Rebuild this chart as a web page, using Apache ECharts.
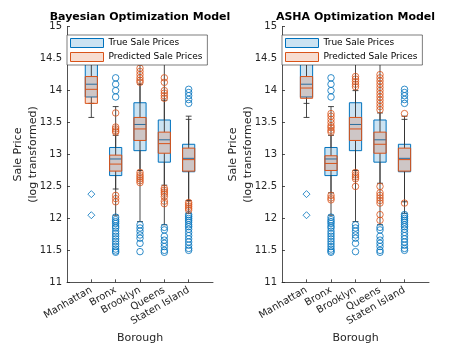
<!DOCTYPE html>
<html><head><meta charset="utf-8">
<script src="https://cdn.jsdelivr.net/npm/echarts@6/dist/echarts.min.js"></script>
<style>html,body{margin:0;padding:0;background:#fff}#c{width:474px;height:355px}</style>
</head><body><div id="c"></div>
<script>
const boroughs = ['Manhattan', 'Bronx', 'Brooklyn', 'Queens', 'Staten Island'];
const titles = ['Bayesian Optimization Model', 'ASHA Optimization Model'];
const seriesNames = ['True Sale Prices', 'Predicted Sale Prices'];
const yMin = 11, yMax = 15, yStep = 0.5;

// box statistics per borough: [lower whisker, Q1, median, Q3, upper whisker]
const trueStats = [
  [13.58, 13.90, 14.10, 14.65, 14.85],
  [12.05, 12.67, 12.93, 13.11, 13.75],
  [11.95, 13.06, 13.47, 13.81, 14.85],
  [11.90, 12.88, 13.23, 13.54, 14.50],
  [12.08, 12.73, 12.94, 13.16, 13.60]
];
const bayesPredStats = [
  [13.80, 13.80, 14.02, 14.22, 14.45],
  [12.46, 12.74, 12.85, 12.99, 13.30],
  [12.75, 13.22, 13.40, 13.58, 14.10],
  [12.52, 13.02, 13.17, 13.35, 13.85],
  [12.28, 12.74, 12.92, 13.10, 13.55]
];
const ashaPredStats = [
  [13.80, 13.88, 14.04, 14.22, 14.45],
  [12.40, 12.75, 12.86, 12.98, 13.30],
  [12.75, 13.22, 13.40, 13.58, 14.00],
  [12.55, 13.02, 13.16, 13.35, 13.65],
  [12.26, 12.74, 12.92, 13.10, 13.55]
];

// outliers per borough
const trueOutliers = [
  [12.38, 12.05],
  [14.20, 14.10, 14.00, 13.90, 12.02, 11.98, 11.95, 11.92, 11.88, 11.85, 11.80, 11.76, 11.72, 11.68, 11.64, 11.60, 11.56, 11.52, 11.49, 11.47],
  [11.90, 11.85, 11.80, 11.74, 11.69, 11.61, 11.48],
  [11.86, 11.82, 11.72, 11.66, 11.61, 11.56, 11.50, 11.47],
  [14.02, 13.97, 13.92, 13.86, 13.80, 12.06, 12.03, 12.00, 11.97, 11.94, 11.90, 11.87, 11.83, 11.78, 11.73, 11.68, 11.63, 11.58, 11.53, 11.50]
];
const bayesPredOutliers = [
  [],
  [13.65, 13.43, 13.40, 13.37, 13.35, 12.36, 12.31, 12.26],
  [14.35, 14.30, 14.25, 14.20, 14.16, 14.13, 12.72, 12.68, 12.65, 12.62, 12.59, 12.56],
  [14.20, 14.13, 14.00, 13.96, 13.92, 13.88, 12.47, 12.44, 12.41, 12.38, 12.34, 12.27, 12.23],
  [12.25, 12.22, 12.19, 12.16, 12.13]
];
const ashaPredOutliers = [
  [],
  [13.64, 13.60, 13.55, 13.50, 13.45, 13.42, 13.38, 13.35, 12.36, 12.32, 12.29],
  [14.22, 14.18, 14.14, 14.10, 14.06, 12.72, 12.68, 12.65, 12.62, 12.50],
  [14.25, 14.20, 14.15, 14.10, 14.05, 14.00, 13.95, 13.90, 13.85, 13.80, 13.75, 13.70, 12.50, 12.40, 12.36, 12.32, 12.28, 12.24, 12.06, 11.97],
  [13.64, 12.24]
];

const BLUE = '#0072BD', ORANGE = '#D95319', AX = '#262626';
const BLUE_FILL = 'rgba(0,114,189,0.2)', ORANGE_FILL = 'rgba(217,83,25,0.2)';
const FONT = 'DejaVu Sans';

function boxRender(color, fill) {
  return function (params, api) {
    const x = api.value(0);
    const wl = api.value(1), q1 = api.value(2), md = api.value(3), q3 = api.value(4), wh = api.value(5);
    const hw = 0.25, cw = 0.12;
    const c = (a, b) => api.coord([a, b]);
    const line = (p1, p2, style) => ({ type: 'line', shape: { x1: p1[0], y1: p1[1], x2: p2[0], y2: p2[1] }, style });
    const ws = { stroke: '#333333', lineWidth: 0.9 };
    const tl = c(x - hw, q3), br = c(x + hw, q1);
    return {
      type: 'group',
      children: [
        line(c(x, q3), c(x, wh), ws),
        line(c(x, q1), c(x, wl), ws),
        line(c(x - cw, wh), c(x + cw, wh), ws),
        line(c(x - cw, wl), c(x + cw, wl), ws),
        { type: 'rect', shape: { x: tl[0], y: tl[1], width: br[0] - tl[0], height: br[1] - tl[1] }, style: { fill, stroke: color, lineWidth: 1 } },
        line(c(x - hw, md), c(x + hw, md), { stroke: color, lineWidth: 1 })
      ]
    };
  };
}

const grids = [
  { left: 67, top: 26.7, width: 146, height: 255.6 },
  { left: 282, top: 26.7, width: 147, height: 255.6 }
];
const tickPos = boroughs.map((b, i) => i + 1);

const option = {
  animation: false,
  backgroundColor: '#fff',
  textStyle: { fontFamily: FONT },
  title: titles.map((t, g) => ({
    text: t, left: grids[g].left + grids[g].width / 2, top: 12, textAlign: 'center', padding: 0,
    textStyle: { fontSize: 11, fontWeight: 'bold', color: '#000', fontFamily: FONT }
  })),
  grid: grids,
  legend: grids.map(gr => ({
    left: gr.left, top: 35, orient: 'vertical', padding: [3, 5, 3, 3], itemGap: 4,
    itemWidth: 33, itemHeight: 9, itemTextGap: 3,
    backgroundColor: '#fff', borderColor: AX, borderWidth: 0.6, borderRadius: 0,
    textStyle: { fontSize: 9, color: '#000', fontFamily: FONT },
    selectedMode: false,
    data: [
      { name: seriesNames[0], icon: 'rect', itemStyle: { color: BLUE_FILL, borderColor: BLUE, borderWidth: 1 } },
      { name: seriesNames[1], icon: 'rect', itemStyle: { color: ORANGE_FILL, borderColor: ORANGE, borderWidth: 1 } }
    ]
  })),
  xAxis: grids.map((gr, g) => ({
    gridIndex: g, type: 'value', min: 0, max: 6, interval: 1,
    axisLine: { show: true, onZero: false, lineStyle: { color: AX, width: 0.8 } },
    axisTick: { show: true, inside: true, length: 3, customValues: tickPos, lineStyle: { color: AX, width: 0.8 } },
    axisLabel: { customValues: tickPos, formatter: v => boroughs[Math.round(v) - 1] || '', rotate: 30, color: AX, fontSize: 10, fontFamily: FONT, margin: 7 },
    splitLine: { show: false },
    name: 'Borough', nameLocation: 'middle', nameGap: 50, nameMoveOverlap: false,
    nameTextStyle: { fontSize: 11, color: AX, fontFamily: FONT }
  })),
  yAxis: grids.map((gr, g) => ({
    gridIndex: g, type: 'value', min: yMin, max: yMax, interval: yStep,
    axisLine: { show: true, onZero: false, lineStyle: { color: AX, width: 0.8 } },
    axisTick: { show: true, inside: true, length: 3, lineStyle: { color: AX, width: 0.8 } },
    axisLabel: { color: AX, fontSize: 10, fontFamily: FONT, margin: 5 },
    splitLine: { show: false },
    name: 'Sale Price\n(log transformed)', nameLocation: 'middle', nameGap: 26, nameRotate: 90, nameMoveOverlap: false,
    nameTextStyle: { fontSize: 11, color: AX, fontFamily: FONT, lineHeight: 15 }
  })),
  series: []
};

const predSets = [[bayesPredStats, bayesPredOutliers], [ashaPredStats, ashaPredOutliers]];
predSets.forEach(([pStats, pOut], g) => {
  const sets = [[trueStats, trueOutliers, BLUE, BLUE_FILL, seriesNames[0]], [pStats, pOut, ORANGE, ORANGE_FILL, seriesNames[1]]];
  sets.forEach(([stats, , color, fill, name]) => {
    option.series.push({
      type: 'custom', name, xAxisIndex: g, yAxisIndex: g, clip: true,
      renderItem: boxRender(color, fill),
      itemStyle: { color: fill, borderColor: color },
      encode: { x: 0, y: [1, 2, 3, 4, 5] },
      data: stats.map((s, i) => [i + 1].concat(s)),
      silent: true
    });
  });
  sets.forEach(([, outs, color, , name]) => {
    option.series.push({
      type: 'scatter', name: name + ' outliers', xAxisIndex: g, yAxisIndex: g,
      symbol: (val) => (val[0] === 1 ? 'diamond' : 'circle'),
      symbolSize: (val) => (val[0] === 1 ? 7 : 6.5),
      itemStyle: { color: 'rgba(0,0,0,0)', borderColor: color, borderWidth: 1 },
      data: outs.flatMap((arr, i) => arr.map(v => [i + 1, v])),
      silent: true, z: 3
    });
  });
});

const chart = echarts.init(document.getElementById('c'), null, { renderer: 'canvas' });
chart.setOption(option);
</script>
</body></html>
